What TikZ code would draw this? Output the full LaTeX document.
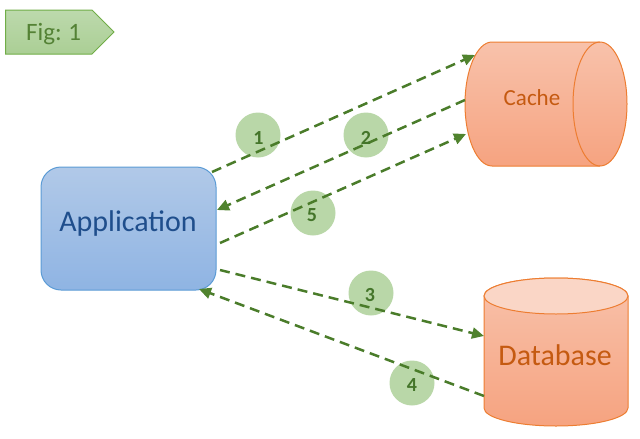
\documentclass[tikz,border=0pt]{standalone}
\usepackage{fontspec}
\setmainfont{Carlito}
\usetikzlibrary{arrows.meta}
\definecolor{gline}{HTML}{4A7C2A}
\definecolor{gstroke}{HTML}{70AD47}
\definecolor{gtext}{HTML}{548235}
\definecolor{numtext}{HTML}{44752A}
\definecolor{gcirc}{HTML}{B9D7A8}
\definecolor{otext}{HTML}{C55A11}
\definecolor{ostroke}{HTML}{ED7D31}
\definecolor{otop}{HTML}{F8C2AB}
\definecolor{obot}{HTML}{F6A380}
\definecolor{otopcap}{HTML}{FAD6C6}
\definecolor{bstroke}{HTML}{5B9BD5}
\definecolor{btop}{HTML}{B1C9E8}
\definecolor{bbot}{HTML}{8FB4E3}
\definecolor{btext}{HTML}{1F4E8C}
\tikzset{
  orangebody/.style={draw=ostroke,line width=1pt,top color=otop,bottom color=obot},
  flow/.style={draw=gline,line width=2.5pt,dash pattern=on 10pt off 6pt,-{Triangle[length=12pt,width=11pt,color=gline!85!gstroke]}},
  badge/.style={circle,fill=gcirc,minimum size=45pt,inner sep=0pt},
  num/.style={font=\fontsize{20}{22}\selectfont\bfseries,text=numtext,inner sep=0pt},
}
\begin{document}
\begin{tikzpicture}[x=1pt,y=-1pt]
\useasboundingbox (0,0) rectangle (640,439);
% fig tag
\path[draw=gstroke,line width=1pt,top color=gcirc!95!white,bottom color=gcirc!80!gstroke]
  (5.5,10) -- (92,10) -- (114,32) -- (92,54) -- (5.5,54) -- cycle;
\node[text=gtext,font=\fontsize{25}{28}\selectfont,inner sep=0pt] (fig) at (53.5,34) {Fig:\hspace{-1pt} 1};
% application
\node[draw=bstroke,line width=1pt,top color=btop,bottom color=bbot,rounded corners=20pt,
  minimum width=175pt,minimum height=123pt,inner sep=0pt] (app) at (128.5,228.5) {};
\node[text=btext,font=\fontsize{30}{34}\selectfont,inner sep=0pt] (applabel) at (128,223.5) {Application};
% cache
\path[orangebody] (492,42) -- (600,42) arc[start angle=-90,end angle=90,x radius=27,y radius=62]
  -- (492,166) arc[start angle=90,end angle=270,x radius=27,y radius=62] -- cycle;
\draw[draw=ostroke,line width=1pt] (600,42) arc[start angle=-90,end angle=-270,x radius=27,y radius=62];
\node[text=otext,font=\fontsize{23}{26}\selectfont,inner sep=0pt] (cache) at (532,98) {Cache};
% database
\path[orangebody] (484,296) -- (484,408) arc[start angle=180,end angle=360,x radius=72,y radius=-18]
  -- (628,296) arc[start angle=0,end angle=180,x radius=72,y radius=-18] -- cycle;
\draw[draw=ostroke,line width=1pt,fill=otopcap] (556,296) ellipse[x radius=72,y radius=18];
\node[text=otext,font=\fontsize{30}{34}\selectfont,inner sep=0pt] (db) at (555,355.5) {Database};
% badges
\node[badge] (b1) at (258,135) {};
\node[badge] (b2) at (366,135) {};
\node[badge] (b5) at (313,213) {};
\node[badge] (b3) at (371,293) {};
\node[badge] (b4) at (412,383) {};
% connector ends
\coordinate (a1) at (212,172); \coordinate (c1) at (475,55);
\coordinate (c2) at (465,100); \coordinate (a2) at (217,210);
\coordinate (a5) at (220,243); \coordinate (c5) at (466,134);
\coordinate (a3) at (220,270); \coordinate (d3) at (484,336);
\coordinate (d4) at (484,396); \coordinate (a4) at (199,289);
\draw[flow] (a1) -- (c1);
\draw[flow] (c2) -- (a2);
\draw[flow] (a5) -- (c5);
\draw[flow] (a3) -- (d3);
\draw[flow] (d4) -- (a4);
% numbers
\node[num] (n1) at (258.5,138) {1};
\node[num] (n2) at (366,138) {2};
\node[num] (n5) at (312,215) {5};
\node[num] (n3) at (370,295) {3};
\node[num] (n4) at (412,385) {4};
\end{tikzpicture}
\end{document}
